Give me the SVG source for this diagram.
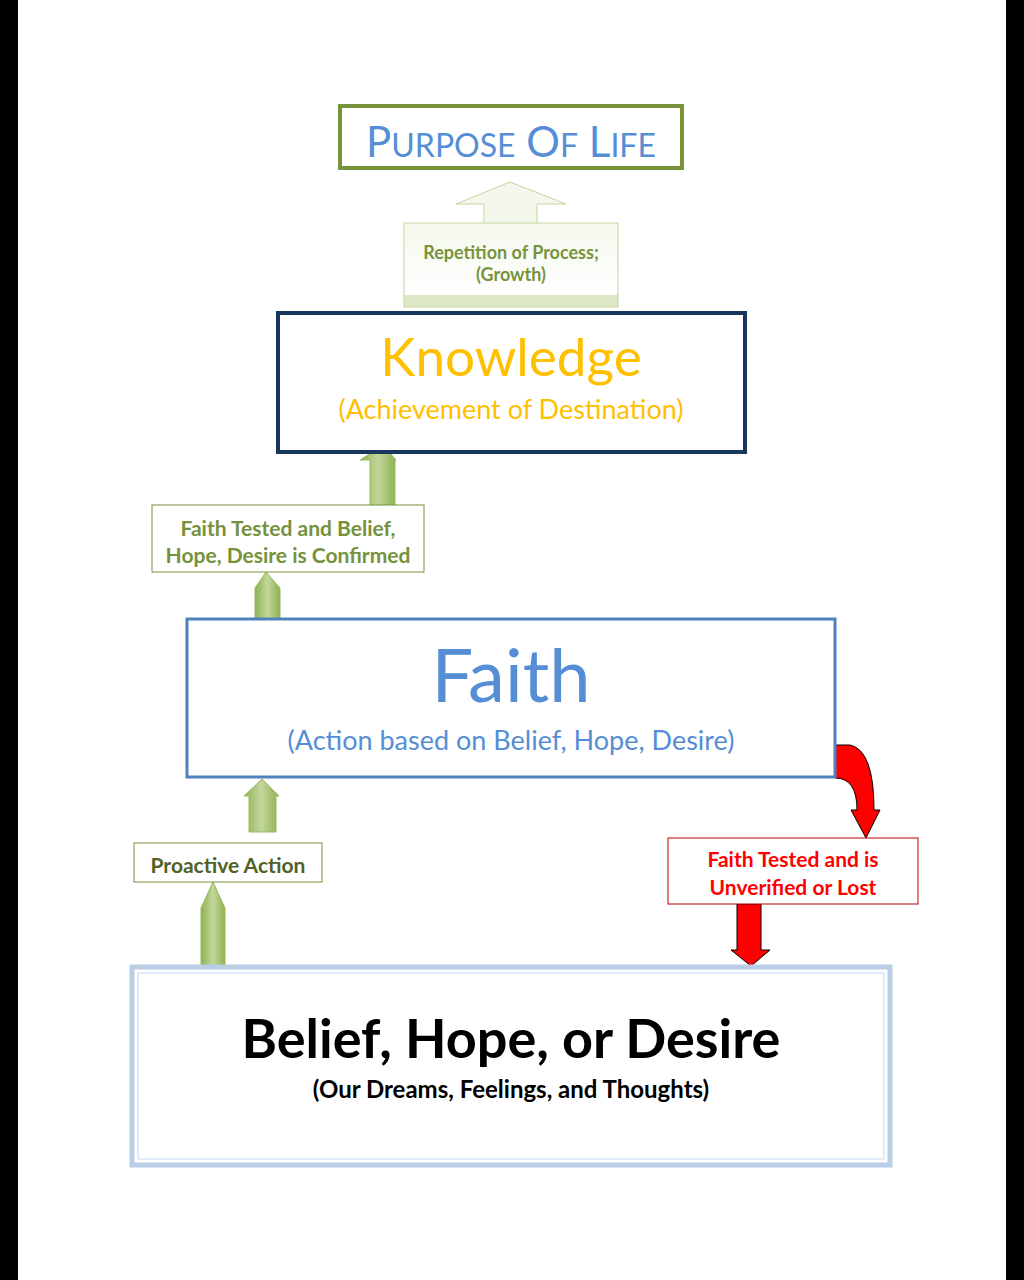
<svg xmlns="http://www.w3.org/2000/svg" width="1024" height="1280" viewBox="0 0 1024 1280">
<defs>
<linearGradient id="g" x1="0" x2="1" y1="0" y2="0">
<stop offset="0" stop-color="#8DB255"/><stop offset="0.5" stop-color="#C3D69B"/><stop offset="1" stop-color="#8DB255"/>
</linearGradient>
<linearGradient id="pg" x1="0" x2="0" y1="0" y2="1">
<stop offset="0" stop-color="#F4F8EC"/><stop offset="0.85" stop-color="#FFFFFF"/><stop offset="0.86" stop-color="#DCE7C8"/><stop offset="1" stop-color="#DCE7C8"/>
</linearGradient>
<style>
text{font-family:Lato,"Open Sans","Liberation Sans",sans-serif;text-anchor:middle}
.ga{fill:url(#g);stroke:#9BBB59;stroke-width:1}
.ra{fill:#FF0000;stroke:#000;stroke-width:1}
.gl{font-weight:bold;fill:#76923C;font-size:21px}
.rl{font-weight:bold;fill:#FF0000;font-size:21px}
</style>
</defs>
<rect width="1024" height="1280" fill="#fff"/>
<rect x="0" y="0" width="18" height="1280" fill="#000"/>
<rect x="1006" y="0" width="18" height="1280" fill="#000"/>
<g id="connectors">
<path d="M510,182 L566,204 L537,204 L537,224 L484,224 L484,204 L456,204 Z" fill="#F4F8EC" stroke="#C3D69B"/>
<path class="ga" d="M383,445 L396,460 L395,460 L395,506 L370,506 L370,460 L360,460 Z"/>
<path class="ga" d="M266,572 L280,588 L280,619 L255,619 L255,588 Z"/>
<path class="ga" d="M262,779 L279,796 L276,796 L276,832 L249,832 L249,796 L244,796 Z"/>
<path class="ga" d="M213,882 L225,908 L225,968 L201,968 L201,908 Z"/>
<path class="ra" d="M835,745 L850,745 Q874,750 874,810 L880,810 L866,838 L851,810 L857,810 Q857,778 835,778 Z"/>
<path class="ra" d="M737,904 L761,904 L761,950 L770,950 L751,966 L731,950 L737,950 Z"/>
</g>
<g id="purpose">
<rect x="340" y="106" width="342" height="62" fill="#fff" stroke="#77933C" stroke-width="4"/>
<text x="511" y="157" font-size="42" fill="#558ED5">P<tspan font-size="32">URPOSE</tspan> O<tspan font-size="32">F</tspan> L<tspan font-size="32">IFE</tspan></text>
</g>
<g id="repetition">
<rect x="404" y="223" width="214" height="84" fill="url(#pg)" stroke="#C3D69B"/>
<text x="511" y="259" font-size="18" font-weight="bold" fill="#77933C">Repetition of Process;</text>
<text x="511" y="281" font-size="18" font-weight="bold" fill="#77933C">(Growth)</text>
</g>
<g id="knowledge">
<rect x="278" y="313" width="467" height="139" fill="#fff" stroke="#17375E" stroke-width="4"/>
<text x="511" y="376" font-size="53" fill="#FFC000">Knowledge</text>
<text x="511" y="419" font-size="27" fill="#FFC000">(Achievement of Destination)</text>
</g>
<g id="confirmed">
<rect x="152" y="505" width="272" height="67" fill="#fff" stroke="#77933C"/>
<text x="288" y="536" class="gl">Faith Tested and Belief,</text>
<text x="288" y="563" class="gl">Hope, Desire is Confirmed</text>
</g>
<g id="faith">
<rect x="187" y="619" width="648" height="158" fill="#fff" stroke="#4F81BD" stroke-width="3"/>
<text x="511" y="702" font-size="74" fill="#558ED5">Faith</text>
<text x="511" y="750" font-size="27" fill="#558ED5">(Action based on Belief, Hope, Desire)</text>
</g>
<g id="proactive">
<rect x="134" y="843" width="188" height="39" fill="#fff" stroke="#77933C"/>
<text x="228" y="873" class="gl" style="fill:#4F6228">Proactive Action</text>
</g>
<g id="lost">
<rect x="668" y="838" width="250" height="66" fill="#fff" stroke="#C00000"/>
<text x="793" y="867" class="rl">Faith Tested and is</text>
<text x="793" y="895" class="rl">Unverified or Lost</text>
</g>
<g id="belief">
<rect x="132" y="967" width="758" height="198" fill="#fff" stroke="#B9CDE5" stroke-width="5"/>
<rect x="138" y="973" width="746" height="186" fill="none" stroke="#C6D9F1" stroke-width="1"/>
<text x="511" y="1058" font-size="54" font-weight="bold" fill="#000">Belief, Hope, or Desire</text>
<text x="511" y="1098" font-size="24" font-weight="bold" fill="#000">(Our Dreams, Feelings, and Thoughts)</text>
</g>
</svg>
